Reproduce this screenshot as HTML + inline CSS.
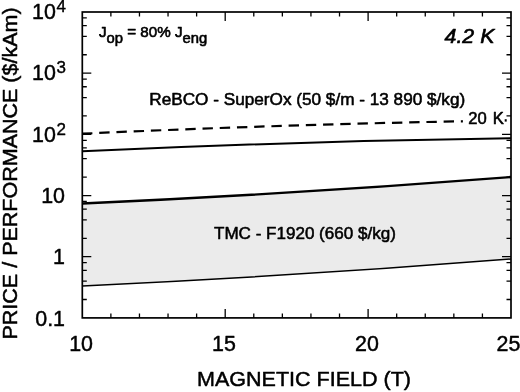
<!DOCTYPE html>
<html><head><meta charset="utf-8"><title>Price / Performance vs Magnetic Field</title>
<style>
html,body{margin:0;padding:0;background:#fff;}
body{width:520px;height:392px;overflow:hidden;font-family:"Liberation Sans",sans-serif;}
svg{display:block}
text{font-family:"Liberation Sans",sans-serif;fill:#000;stroke:#000;stroke-width:0.45px;stroke-linejoin:round}
.tl{font-size:21.4px;stroke-width:0.45px}
.sup{font-size:17px;stroke-width:0.4px}
.ax{font-size:21px;stroke-width:0.5px}
.lb{font-size:17px;stroke-width:0.55px}
.bd{stroke-width:0.15px}
</style></head><body>
<svg width="520" height="392" viewBox="0 0 520 392">
<rect width="520" height="392" fill="#fff"/>
<path d="M82.3 203.48 Q296.65 193.88 511.0 177.01 L511.0 258.90 Q296.65 276.06 82.3 285.94 Z" fill="#ebebeb"/>
<path d="M82.3 285.94 Q296.65 276.06 511.0 258.90" stroke="#000" stroke-width="1.5" fill="none"/>
<path d="M82.3 203.48 Q296.65 193.88 511.0 177.01" stroke="#000" stroke-width="2.4" fill="none"/>
<path d="M82.3 151.31 Q296.65 141.31 511.0 138.32" stroke="#000" stroke-width="2" fill="none"/>
<path d="M82.3 133.71 Q296.65 123.77 511.0 120.44" stroke="#000" stroke-width="2.2" stroke-dasharray="10.4 6.83" stroke-dashoffset="0.3" fill="none"/>
<rect x="462.9" y="110" width="45" height="18" fill="#fff"/>
<path d="M504.7 120.4h2" stroke="#000" stroke-width="2.4"/>
<path d="M110.88 317.9v-4.5M110.88 12.0v4.5M139.46 317.9v-4.5M139.46 12.0v4.5M168.04 317.9v-4.5M168.04 12.0v4.5M196.62 317.9v-4.5M196.62 12.0v4.5M225.20 317.9v-9M225.20 12.0v9M253.78 317.9v-4.5M253.78 12.0v4.5M282.36 317.9v-4.5M282.36 12.0v4.5M310.94 317.9v-4.5M310.94 12.0v4.5M339.52 317.9v-4.5M339.52 12.0v4.5M368.10 317.9v-9M368.10 12.0v9M396.68 317.9v-4.5M396.68 12.0v4.5M425.26 317.9v-4.5M425.26 12.0v4.5M453.84 317.9v-4.5M453.84 12.0v4.5M482.42 317.9v-4.5M482.42 12.0v4.5M82.3 299.48h4.5M511.0 299.48h-4.5M82.3 281.07h4.5M511.0 281.07h-4.5M82.3 270.29h4.5M511.0 270.29h-4.5M82.3 262.65h4.5M511.0 262.65h-4.5M82.3 256.72h9M511.0 256.72h-9M82.3 238.30h4.5M511.0 238.30h-4.5M82.3 219.89h4.5M511.0 219.89h-4.5M82.3 209.11h4.5M511.0 209.11h-4.5M82.3 201.47h4.5M511.0 201.47h-4.5M82.3 195.54h9M511.0 195.54h-9M82.3 177.12h4.5M511.0 177.12h-4.5M82.3 158.71h4.5M511.0 158.71h-4.5M82.3 147.93h4.5M511.0 147.93h-4.5M82.3 140.29h4.5M511.0 140.29h-4.5M82.3 134.36h9M511.0 134.36h-9M82.3 115.94h4.5M511.0 115.94h-4.5M82.3 97.53h4.5M511.0 97.53h-4.5M82.3 86.75h4.5M511.0 86.75h-4.5M82.3 79.11h4.5M511.0 79.11h-4.5M82.3 73.18h9M511.0 73.18h-9M82.3 54.76h4.5M511.0 54.76h-4.5M82.3 36.35h4.5M511.0 36.35h-4.5M82.3 25.57h4.5M511.0 25.57h-4.5M82.3 17.93h4.5M511.0 17.93h-4.5" stroke="#000" stroke-width="1.3" fill="none"/>
<rect x="82.3" y="12.0" width="428.70" height="305.90" fill="none" stroke="#000" stroke-width="1.7"/>
<text transform="translate(55.9 19.2) scale(1.0 1)" text-anchor="end" class="tl" >10</text>
<text transform="translate(56.4 12.2) scale(1.0 1)" text-anchor="start" class="sup" >4</text>
<text transform="translate(55.9 80.4) scale(1.0 1)" text-anchor="end" class="tl" >10</text>
<text transform="translate(56.4 73.4) scale(1.0 1)" text-anchor="start" class="sup" >3</text>
<text transform="translate(55.9 141.6) scale(1.0 1)" text-anchor="end" class="tl" >10</text>
<text transform="translate(56.4 134.6) scale(1.0 1)" text-anchor="start" class="sup" >2</text>
<text transform="translate(65 202.7) scale(1.0 1)" text-anchor="end" class="tl" >10</text>
<text transform="translate(65 263.9) scale(1.0 1)" text-anchor="end" class="tl" >1</text>
<text transform="translate(65 325.7) scale(1.0 1)" text-anchor="end" class="tl" >0.1</text>

<text transform="translate(81.1 351.2) scale(1.0 1)" text-anchor="middle" class="tl" >10</text>
<text transform="translate(224.0 351.2) scale(1.0 1)" text-anchor="middle" class="tl" >15</text>
<text transform="translate(366.9 351.2) scale(1.0 1)" text-anchor="middle" class="tl" >20</text>
<text transform="translate(508.4 351.2) scale(1.0 1)" text-anchor="middle" class="tl" >25</text>

<text transform="translate(304 386) scale(1.025 1)" text-anchor="middle" class="ax" >MAGNETIC FIELD (T)</text>

<text transform="translate(17 339.5) rotate(-90) scale(1.024 1)" class="ax">PRICE / PERFORMANCE ($/kAm)</text>
<text transform="translate(149.3 105.1) scale(1.011 1)" text-anchor="start" class="lb" >ReBCO - SuperOx (50 $/m - 13 890 $/kg)</text>

<text transform="translate(214.0 239.4) scale(1.003 1)" text-anchor="start" class="lb" >TMC - F1920 (660 $/kg)</text>

<text transform="translate(468.3 124.3) scale(1.0 1)" text-anchor="start" class="lb" style="font-size:16.6px;word-spacing:1.4px">20 K</text>

<text transform="translate(444.6 43.4) scale(1.04 1)" text-anchor="start" class="lb" style="font-size:20.5px;font-style:italic;stroke-width:0.65px">4.2 K</text>

<text transform="translate(98.9 36.8) scale(1.0 1)" style="font-size:15.2px;stroke-width:0.6px">J<tspan dy="5.8" style="font-size:14.8px">op</tspan><tspan dy="-5.8"> = 80% J</tspan><tspan dy="5.8" style="font-size:14.8px">eng</tspan></text>
</svg>
</body></html>
